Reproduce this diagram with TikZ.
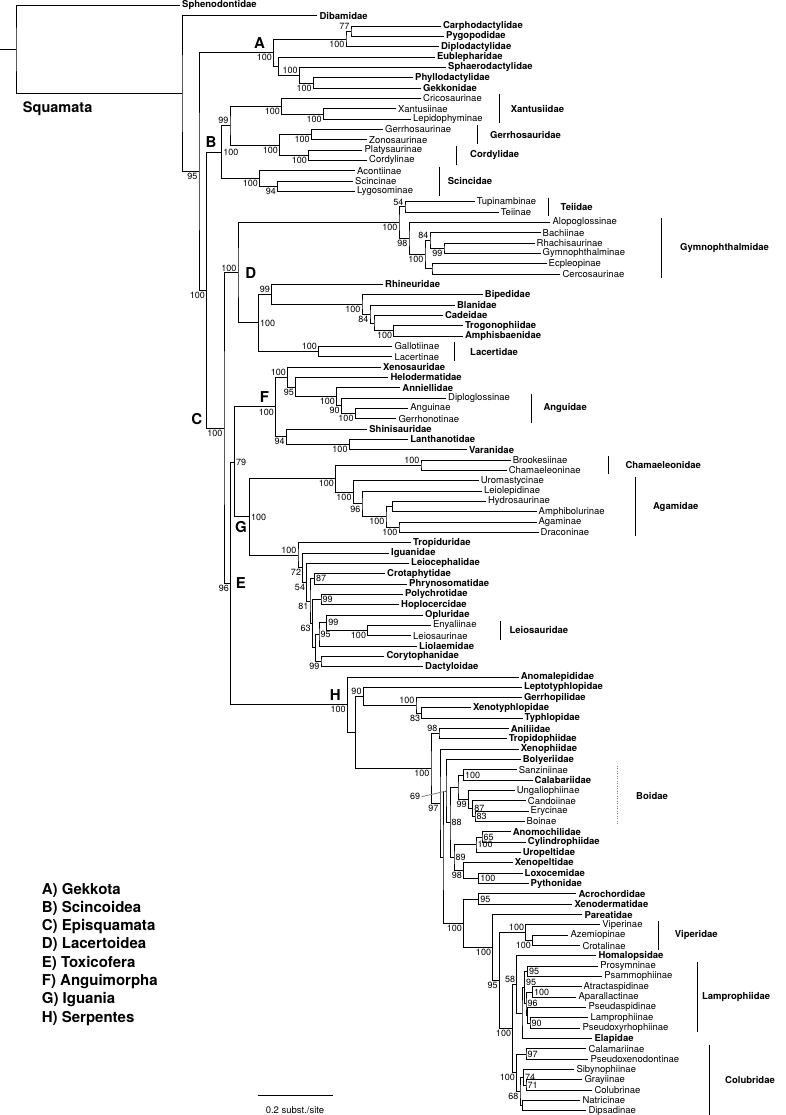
\documentclass[tikz,border=0pt]{standalone}
\usepackage{fontspec}
\setmainfont{TeX Gyre Heros}

\tikzset{
  branch/.style={line width=0.9pt},
  fam/.style={anchor=west, inner sep=2pt, font=\fontsize{9.5}{10}\selectfont\bfseries},
  sub/.style={anchor=west, inner sep=2pt, font=\fontsize{9.5}{10}\selectfont},
  bs/.style={inner sep=1.5pt, font=\fontsize{9}{9}\selectfont},
  clade/.style={font=\fontsize{15}{15}\selectfont\bfseries},
  grp/.style={anchor=west, inner sep=0pt, font=\fontsize{9.5}{10}\selectfont\bfseries},
  famline/.style={line width=0.8pt},
  legend/.style={anchor=west, inner sep=0pt, font=\fontsize{15}{16}\selectfont\bfseries},
}

\begin{document}
\begin{tikzpicture}[x=1pt, y=-1pt]
  \useasboundingbox (0,0) rectangle (785,1115);

  % tree: one unit of y is one row of tips
  \begin{scope}[y=-10.33pt, yshift=-5.5pt]
    % families (bold)
    \foreach \nm/\k/\xe in {Sphenodontidae/0/180, Dibamidae/1/317.4, Carphodactylidae/2/440.9,
      Pygopodidae/3/444, Diplodactylidae/4/438.9, Eublepharidae/5/434.9, Sphaerodactylidae/6/446,
      Phyllodactylidae/7/413, Gekkonidae/8/421, Rhineuridae/27/383, Bipedidae/28/482.7,
      Blanidae/29/454.8, Cadeidae/30/442.9, Trogonophiidae/31/462.8, Amphisbaenidae/32/462.8,
      Xenosauridae/35/381, Helodermatidae/36/388.3, Anniellidae/37/400.2, Shinisauridae/41/367.2,
      Lanthanotidae/42/408.2, Varanidae/43/466.8, Tropiduridae/52/411, Iguanidae/53/389,
      Leiocephalidae/54/409, Crotaphytidae/55/385, Phrynosomatidae/56/407, Polychrotidae/57/403,
      Hoplocercidae/58/399, Opluridae/59/423, Liolaemidae/62/417, Corytophanidae/63/384.3,
      Dactyloidae/64/423, Anomalepididae/65/518.6, Leptotyphlopidae/66/521.8, Gerrhopilidae/67/521.8,
      Xenotyphlopidae/68/470.8, Typhlopidae/69/522.5, Aniliidae/70/508.6, Tropidophiidae/71/506.6,
      Xenophiidae/72/518.6, Bolyeriidae/73/520.6, Calabariidae/75/532.5, Anomochilidae/80/510.6,
      Cylindrophiidae/81/525.7, Uropeltidae/82/520.6, Xenopeltidae/83/512.6, Loxocemidae/84/522.5,
      Pythonidae/85/528.5, Acrochordidae/86/576.3, Xenodermatidae/87/572.4, Pareatidae/88/582.3,
      Homalopsidae/92/596.3, Elapidae/100/592.3}
      \node[fam] (\nm) at (\xe,\k) {\nm};
    % subfamilies
    \foreach \nm/\k/\xe in {Cricosaurinae/9/421, Xantusiinae/10/395.9, Lepidophyminae/11/411,
      Gerrhosaurinae/12/383, Zonosaurinae/13/367, Platysaurinae/14/362.4, Cordylinae/15/367,
      Acontiinae/16/355, Scincinae/17/353, Lygosominae/18/355, Tupinambinae/19/474.7,
      Teiinae/20/498.6, Alopoglossinae/21/550.4, Bachiinae/22/540.5, Rhachisaurinae/23/534.5,
      Gymnophthalminae/24/540.5, Ecpleopinae/25/546.5, Cercosaurinae/26/560.4, Gallotiinae/33/392.3,
      Lacertinae/34/392.3, Diploglossinae/38/446, Anguinae/39/408.2, Gerrhonotinae/40/396.3,
      Brookesiinae/44/510.6, Chamaeleoninae/45/506.6, Uromastycinae/46/478.7, Leiolepidinae/47/481.9,
      Hydrosaurinae/48/485.9, Amphibolurinae/49/536.5, Agaminae/50/536.5, Draconinae/51/538.5,
      Enyaliinae/60/430.9, Leiosaurinae/61/411, Sanziniinae/74/516.6, Ungaliophiinae/76/514.6,
      Candoiinae/77/525.7, Erycinae/78/528.5, Boinae/79/524.5, Viperinae/89/600.2,
      Azemiopinae/90/568.4, Crotalinae/91/580.3, Prosymninae/93/598.2, Psammophiinae/94/602.2,
      Atractaspidinae/95/581.5, Aparallactinae/96/576.3, Pseudaspidinae/97/586.3,
      Lamprophiinae/98/588.3, Pseudoxyrhophiinae/99/580.3, Calamariinae/101/586.3,
      Pseudoxenodontinae/102/588.3, Sibynophiinae/103/574.3, Grayiinae/104/582.3,
      Colubrinae/105/592.3, Natricinae/106/580.3, Dipsadinae/107/586.3}
      \node[sub] (\nm) at (\xe,\k) {\nm};

    % inner nodes
    \foreach \nm/\xe/\k in {Root/16/4.265, Sq/182/8.53, Nr/199/16.06, A/273.5/4.5625, P1/346/3.25,
      P2/351/2.5, G1/278.3/5.875, G2/299.4/6.75, G3/313.4/7.5, Nbc/206.7/27.55, B/221.7/14.1875,
      X1/230/11.625, Xa/281.5/9.75, Xa2/323.3/10.5, GC/279.5/13.5, Ge/311.4/12.5, Co/308.6/14.5,
      Sc/259.6/16.75, Sc2/277.5/17.5, C/224/40.91, Dn/238/25.88, TG/399/21.03, Te/405/19.5,
      Gy/409/22.5625, Gy2/425/24.125, Gy3/430/22.75, Gy4/444/23.5, Gy5/432/25.5, AL/258.4/30.73,
      Am/271.5/27.97, Am2/362/28.94, Am3/370/29.875, Am4/374/30.75, Am5/393.9/31.5, La/318.6/33.5,
      E/230.5/55.93, FG/234.5/44.19, F/275.5/38.86, F1/287.5/35.97, F2/295.5/36.94, F3/336.5/37.875,
      F4/341.3/38.75, F5/355.2/39.5, F6/286.3/41.75, F7/349.2/42.5, G/249.5/49.51, Acro/335.5/45.81,
      Ch/421/44.5, Ag/353.2/47.125, Ag2/362/48.25, Ag3/386/49.5, Ag4/392.3/48.5, Ag5/399/50.5,
      Pl1/298/53.21, Pl2/302.7/54.42, Pl3/306.7/55.84, Pl4/310/57.67, CP/314.3/55.5, Pl5/312.3/59.84,
      PH/321/57.5, Pl6/315.5/62.19, OLL/319/60.875, OL/326.7/59.75, Le/367.7/60.5, CD/321/63.5,
      H/347.3/67.68, H1/355.2/70.37, Sco/363.2/66.875, Ty/416/67.75, Ty2/421.8/68.5, Ale/431/73.86,
      Ani/439/70.5, Z/440/77.2, W/443/82.45, Hen2/446/76.05, Hen3/450/79.09, B0/458/75.69,
      SC/463.3/74.5, UB/468.3/76.875, UB2/472.7/77.75, UB3/475/78.5, UP/454/82.5, U1/476/81.25,
      U2/482/80.5, Py/463.5/83.75, LP2/478.7/84.5, Cae/463.6/88.85, AX/478.7/86.5, Co1/492.7/91.2,
      Co2/499.3/94.4, Vi/525.7/89.75, Vi2/532.5/90.5, Co3/512.7/99.04, Co4/516.7/94.77, LE/522/97.53,
      La0/524.5/95.06, PP/527.5/93.5, La1/526/96.625, AA/532.5/95.5, La2/527.5/97.75, LP/530/98.5,
      Col/516.5/103.31, CPx/526/101.5, Col2/520/105.125, SGC/523.3/103.75, GCo/526/104.5,
      ND/522.7/106.5}
      \coordinate (\nm) at (\xe,\k);

    \coordinate (stub) at (0,4.265);
    \draw[branch] (stub) -- (Root);

    % branches: parent / upper child / lower child
    \foreach \nd/\ka/\kb in {Root/Sphenodontidae/Sq, Sq/Dibamidae/Nr, Nr/A/Nbc, A/P1/G1,
      P1/P2/Diplodactylidae, P2/Carphodactylidae/Pygopodidae, G1/Eublepharidae/G2,
      G2/Sphaerodactylidae/G3, G3/Phyllodactylidae/Gekkonidae, Nbc/B/C, B/X1/Sc, X1/Xa/GC,
      Xa/Cricosaurinae/Xa2, Xa2/Xantusiinae/Lepidophyminae, GC/Ge/Co,
      Ge/Gerrhosaurinae/Zonosaurinae, Co/Platysaurinae/Cordylinae, Sc/Acontiinae/Sc2,
      Sc2/Scincinae/Lygosominae, C/Dn/E, Dn/TG/AL, TG/Te/Gy, Te/Tupinambinae/Teiinae,
      Gy/Alopoglossinae/Gy2, Gy2/Gy3/Gy5, Gy3/Bachiinae/Gy4, Gy4/Rhachisaurinae/Gymnophthalminae,
      Gy5/Ecpleopinae/Cercosaurinae, AL/Am/La, Am/Rhineuridae/Am2, Am2/Bipedidae/Am3,
      Am3/Blanidae/Am4, Am4/Cadeidae/Am5, Am5/Trogonophiidae/Amphisbaenidae,
      La/Gallotiinae/Lacertinae, E/FG/H, FG/F/G, F/F1/F6, F1/Xenosauridae/F2,
      F2/Helodermatidae/F3, F3/Anniellidae/F4, F4/Diploglossinae/F5, F5/Anguinae/Gerrhonotinae,
      F6/Shinisauridae/F7, F7/Lanthanotidae/Varanidae, G/Acro/Pl1, Acro/Ch/Ag,
      Ch/Brookesiinae/Chamaeleoninae, Ag/Uromastycinae/Ag2, Ag2/Leiolepidinae/Ag3, Ag3/Ag4/Ag5,
      Ag4/Hydrosaurinae/Amphibolurinae, Ag5/Agaminae/Draconinae, Pl1/Tropiduridae/Pl2,
      Pl2/Iguanidae/Pl3, Pl3/Leiocephalidae/Pl4, Pl4/CP/Pl5, CP/Crotaphytidae/Phrynosomatidae,
      Pl5/PH/Pl6, PH/Polychrotidae/Hoplocercidae, Pl6/OLL/CD, OLL/OL/Liolaemidae, OL/Opluridae/Le,
      Le/Enyaliinae/Leiosaurinae, CD/Corytophanidae/Dactyloidae, H/Anomalepididae/H1, H1/Sco/Ale,
      Sco/Leptotyphlopidae/Ty, Ty/Gerrhopilidae/Ty2, Ty2/Xenotyphlopidae/Typhlopidae, Ale/Ani/Z,
      Ani/Aniliidae/Tropidophiidae, Z/Xenophiidae/W, W/Hen2/Cae, Hen2/Bolyeriidae/Hen3,
      Hen3/B0/UP, B0/SC/UB, SC/Sanziniinae/Calabariidae, UB/Ungaliophiinae/UB2,
      UB2/Candoiinae/UB3, UB3/Erycinae/Boinae, UP/U1/Py, U1/U2/Uropeltidae,
      U2/Anomochilidae/Cylindrophiidae, Py/Xenopeltidae/LP2, LP2/Loxocemidae/Pythonidae,
      Cae/AX/Co1, AX/Acrochordidae/Xenodermatidae, Co1/Pareatidae/Co2, Co2/Vi/Co3,
      Vi/Viperinae/Vi2, Vi2/Azemiopinae/Crotalinae, Co3/Co4/Col, Co4/Homalopsidae/LE,
      LE/La0/Elapidae, La0/PP/La1, PP/Prosymninae/Psammophiinae, La1/AA/La2,
      AA/Atractaspidinae/Aparallactinae, La2/Pseudaspidinae/LP, LP/Lamprophiinae/Pseudoxyrhophiinae,
      Col/CPx/Col2, CPx/Calamariinae/Pseudoxenodontinae, Col2/SGC/ND, SGC/Sibynophiinae/GCo,
      GCo/Grayiinae/Colubrinae, ND/Natricinae/Dipsadinae}
      \draw[branch] (\ka) -| (\nd) |- (\kb);

    % support values
    \foreach \nd/\an/\val in {Nr/north east/95, A/north east/100, P1/north east/100,
      P2/south east/77, G2/south east/100, G3/north east/100, Nbc/north east/100, B/west/100,
      X1/south east/99, Xa/north east/100, Xa2/north east/100, GC/north east/100,
      Ge/north east/100, Co/north east/100, Sc/north east/100, Sc2/north east/94,
      C/north east/100, Dn/south east/100, TG/north east/100, Te/south east/54,
      Gy/north east/98, Gy2/north east/100, Gy3/south east/84, Gy4/north east/99, AL/west/100,
      Am/south east/99, Am2/north east/100, Am3/north east/84, Am5/north east/100,
      La/south east/100, E/north east/96, FG/west/79, F/north east/100, F1/south east/100,
      F2/north east/95, F3/north east/100, F4/north east/90, F5/north east/100,
      F6/north east/94, F7/north east/100, G/west/100, Acro/north east/100, Ch/south east/100,
      Ag/north east/100, Ag2/north east/96, Ag3/north east/100, Ag5/north east/100,
      Pl1/south east/100, Pl2/north east/72, Pl3/north east/54, Pl4/north east/81, CP/west/87,
      Pl5/north east/63, PH/west/99, OLL/west/95, OL/west/99, Le/north east/100,
      CD/north east/99, H/north east/100, Sco/south east/90, Ty/south east/100,
      Ty2/north east/83, Ale/north east/100, Ani/south east/98, Z/north east/97, Hen3/west/88,
      SC/west/100, UB/north east/99, UB2/west/87, UB3/west/83, UP/west/89, U1/west/100,
      U2/west/65, Py/north east/98, LP2/west/100, Cae/north east/100, AX/west/95,
      Co1/north east/100, Co2/north east/95, Vi/south east/100, Vi2/north east/100,
      Co3/north east/100, Co4/south east/58, La0/south west/95, PP/west/95, La1/west/96,
      AA/west/100, LP/west/90, Col/north east/100, CPx/west/97, Col2/north east/68,
      SGC/west/74, GCo/west/71}
      \node[bs, anchor=\an] (s\nd) at (\nd) {\val};

    \node[bs] (sHen2) at (415,76.59) {69};
    \draw[gray, line width=0.8pt] (sHen2.east) -- (Hen2);

    % family brackets
    \foreach \g/\bx/\ka/\kb/\lx in {Xantusiidae/499.4/9/11/510.6, Gerrhosauridae/477.5/12/13/490,
      Cordylidae/456.8/14/15/470, Scincidae/438.9/16/18/447.6, Teiidae/548.4/19/20/560.4,
      Gymnophthalmidae/661.2/21/26/680, Lacertidae/454.8/33/34/470, Anguidae/531.3/38/40/543.3,
      Chamaeleonidae/608.2/44/45/625.3, Agamidae/635/46/51/652.8, Leiosauridae/500.6/60/61/509.4,
      Viperidae/658.8/89/91/674.7, Lamprophiidae/697/93/99/701.8, Colubridae/709.8/101/107/725}
    {
      \draw[famline] ({\bx},{\ka-0.4}) -- ({\bx},{\kb+0.4});
      \node[grp] (g\g) at ({\lx},{(\ka+\kb)/2}) {\g};
    }
    \draw[gray, line width=0.5pt, dotted] (617.4,73.6) -- (617.4,79.4);
    \node[grp] (gBoidae) at (636,76.5) {Boidae};
  \end{scope}

  % clade letters
  \foreach \c/\xe/\ye in {A/259.6/43.3, B/211/141.7, C/196.7/419, D/250.8/273.3,
    E/240.9/583, F/264.4/397.3, G/240.9/526.7, H/335.3/695}
    \node[clade] (let\c) at (\xe,\ye) {\c};

  \node[anchor=west, inner sep=0pt, font=\fontsize{14.5}{15}\selectfont\bfseries] (squam) at (22.7,108.3) {Squamata};

  \foreach \t [count=\k] in {A) Gekkota, B) Scincoidea, C) Episquamata, D) Lacertoidea,
    E) Toxicofera, F) Anguimorpha, G) Iguania, H) Serpentes}
    \node[legend] (leg\k) at (41.7,{871.7+18.3*\k}) {\t};

  % scale bar
  \coordinate (sb1) at (257.6,1095);
  \coordinate (sb2) at (332.5,1095);
  \draw[line width=0.9pt] (sb1) -- (sb2);
  \node[font=\fontsize{9.5}{10}\selectfont] (sbl) at (295,1110) {0.2 subst./site};
\end{tikzpicture}
\end{document}
